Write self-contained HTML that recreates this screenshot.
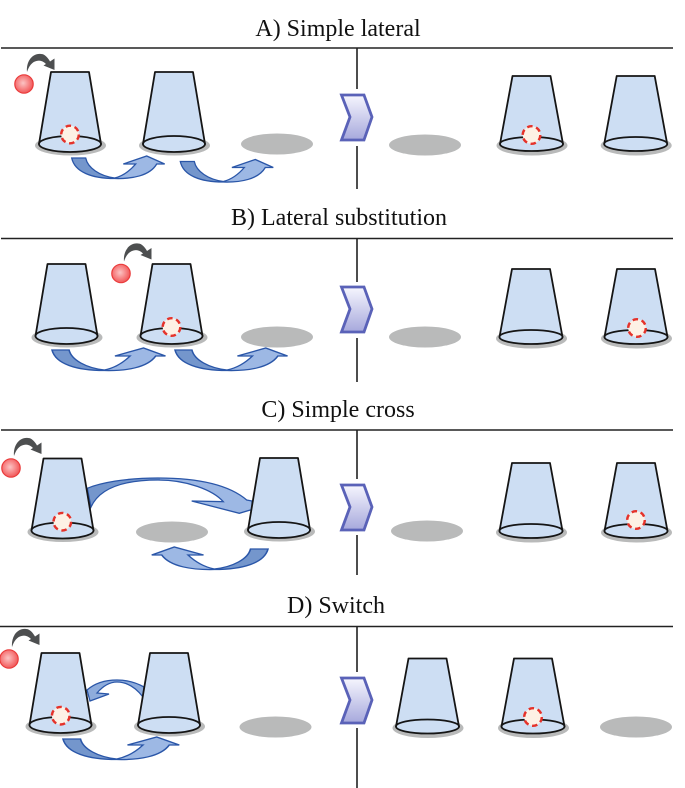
<!DOCTYPE html>
<html><head><meta charset="utf-8"><style>
html,body{margin:0;padding:0;background:#fff;width:685px;height:788px;overflow:hidden}
svg{display:block}
text{font-family:"Liberation Serif",serif;font-size:24px;fill:#111;text-anchor:middle}
</style></head><body>
<svg width="685" height="788" viewBox="0 0 685 788" xmlns="http://www.w3.org/2000/svg">
<defs>
<radialGradient id="rb" cx="0.45" cy="0.45" r="0.6"><stop offset="0" stop-color="#fbc4c4"/><stop offset="0.6" stop-color="#f67d7e"/><stop offset="1" stop-color="#ee4f50"/></radialGradient>
<linearGradient id="cg" x1="0" y1="0" x2="0" y2="1"><stop offset="0" stop-color="#f6f6fe"/><stop offset="1" stop-color="#a6a8dc"/></linearGradient>
<linearGradient id="cr" x1="0" y1="0" x2="1" y2="0"><stop offset="0" stop-color="#7496cc"/><stop offset="0.44" stop-color="#7496cc"/><stop offset="0.44" stop-color="#9db8e4"/><stop offset="1" stop-color="#9db8e4"/></linearGradient>
<g id="shadow"><ellipse cx="0.5" cy="1.5" rx="35.5" ry="10" fill="#b9baba"/></g>
<g id="cupL"><use href="#shadow"/><path d="M-31,0 L-19,-72 H19 L31,0 Z" fill="#cddef3" stroke="#151515" stroke-width="1.8" stroke-linejoin="round"/><ellipse rx="31" ry="8" fill="#cddef3" stroke="#151515" stroke-width="1.8"/></g>
<g id="cupR"><use href="#shadow"/><path d="M-31.5,0 L-19,-68 H19 L31.5,0 Z" fill="#cddef3" stroke="#151515" stroke-width="1.8" stroke-linejoin="round"/><ellipse rx="31.5" ry="7" fill="#cddef3" stroke="#151515" stroke-width="1.8"/></g>
<g id="gray"><ellipse rx="36" ry="10.5" fill="#b9baba"/></g>
<g id="hid"><circle r="8.8" fill="#fdf1e5" stroke="#e5322a" stroke-width="2.4" stroke-dasharray="5.5 3.7"/></g>
<g id="ball"><circle r="9.2" fill="url(#rb)" stroke="#ea3b3b" stroke-width="1.2"/>
<path d="M3,-12 C2,-22 8,-31 17,-30 C21,-30 24,-26 26,-22.5 L30.5,-25.5 V-14 L19.5,-18.5 L22,-20 C19,-23 16,-24 12.5,-23 C8,-22 5,-18 3,-12 Z" fill="#4d4f50"/></g>
<g id="sw">
<path d="M0,0 H14 C16,10 28,18 43,20 L43,20.5 C20,20.5 3,14 0,0 Z" fill="#7496cc"/>
<path d="M43,20.5 C60,21 78,18 85,6 H93 L75,-2 L51.6,6 H64 C58,13 51,18 43,20 Z" fill="#9db8e4"/>
<path d="M0,0 H14 C16,10 28,18 43,20 C51,18 58,13 64,6 H51.6 L75,-2 L93,6 H85 C78,18 60,21 43,20.5 C20,20.5 3,14 0,0 Z" fill="none" stroke="#2a56a8" stroke-width="1.3"/>
</g>
<g id="chev"><path d="M0.5,0 H23 L31,22 L23,45 H0.5 L9,22 Z" fill="url(#cg)" stroke="#5a62b8" stroke-width="2.8" stroke-linejoin="miter"/></g>
</defs>

<!-- Rules -->
<g stroke="#222" stroke-width="1.6">
<line x1="1" y1="48" x2="673" y2="48"/>
<line x1="1" y1="238.5" x2="673" y2="238.5"/>
<line x1="1" y1="430" x2="673" y2="430"/>
<line x1="0" y1="626.5" x2="673" y2="626.5"/>
<line x1="357" y1="48" x2="357" y2="89"/><line x1="357" y1="146" x2="357" y2="189"/>
<line x1="357" y1="239" x2="357" y2="282"/><line x1="357" y1="338" x2="357" y2="382"/>
<line x1="357" y1="430" x2="357" y2="479"/><line x1="357" y1="535" x2="357" y2="575"/>
<line x1="357" y1="627" x2="357" y2="672"/><line x1="357" y1="728" x2="357" y2="788"/>
</g>

<text x="338" y="36">A) Simple lateral</text>
<text x="339" y="225">B) Lateral substitution</text>
<text x="338" y="417">C) Simple cross</text>
<text x="336" y="613">D) Switch</text>

<use href="#chev" x="341" y="95"/>
<use href="#chev" x="341" y="287"/>
<use href="#chev" x="341" y="485"/>
<use href="#chev" x="341" y="678"/>

<!-- A -->
<use href="#cupL" x="70" y="144"/><use href="#hid" x="70" y="134.5"/>
<use href="#cupL" x="174" y="144"/>
<use href="#gray" x="277" y="144"/>
<use href="#gray" x="425" y="145"/>
<use href="#cupR" x="531.5" y="144"/><use href="#hid" x="531.5" y="135"/>
<use href="#cupR" x="635.7" y="144"/>
<use href="#ball" x="24" y="84"/>
<use href="#sw" transform="translate(71.7,158)"/>
<use href="#sw" transform="translate(180.3,161.5)"/>

<!-- B -->
<use href="#cupL" x="66.5" y="336"/>
<use href="#cupL" x="171.5" y="336"/><use href="#hid" x="171.5" y="327"/>
<use href="#gray" x="277" y="337"/>
<use href="#gray" x="425" y="337"/>
<use href="#cupR" x="531" y="337"/>
<use href="#cupR" x="636" y="337"/><use href="#hid" x="637" y="328"/>
<use href="#ball" x="121" y="273.5"/>
<use href="#sw" transform="translate(52,350) scale(1.22,1)"/>
<use href="#sw" transform="translate(175,350) scale(1.21,1)"/>

<!-- C -->
<path d="M87.3,488.3 C100,483 125,478 158,478 C195,478 228,484 246.7,500 L252,501 V509.5 L239.3,513.3 L191.7,501 L223.3,501.7 C213,490 187,480 158,480 C125,480 100,487 91,507 Z" fill="url(#cr)" stroke="#2a56a8" stroke-width="1.3"/>
<use href="#cupL" x="62.5" y="530.5"/><use href="#hid" x="62.3" y="521.7"/>
<use href="#cupL" x="279" y="530"/>
<use href="#gray" x="172" y="532"/>
<use href="#gray" x="427" y="531"/>
<use href="#cupR" x="531" y="531"/>
<use href="#cupR" x="636" y="531"/><use href="#hid" x="636" y="520"/>
<use href="#ball" x="11" y="468"/>
<use href="#sw" transform="translate(268,549) scale(-1.25,1)"/>

<!-- D -->
<path d="M144,687 C135,682 126,680 117,680 C105,680 95,683 87,690 L90,701 L109,694 L97,693 C103,686 110,682 117,682 C128,682 136,688 143,697 Z" fill="#8eacdc" stroke="#2a56a8" stroke-width="1.3"/>
<use href="#cupL" x="60.5" y="725"/><use href="#hid" x="60.7" y="715.7"/>
<use href="#cupL" x="169" y="725"/>
<use href="#gray" x="275.5" y="727"/>
<use href="#cupR" x="427.5" y="726.5"/>
<use href="#cupR" x="533" y="726.5"/><use href="#hid" x="533" y="717"/>
<use href="#gray" x="636" y="727"/>
<use href="#ball" x="9" y="659"/>
<use href="#sw" transform="translate(63,739) scale(1.25,1)"/>
</svg>
</body></html>
